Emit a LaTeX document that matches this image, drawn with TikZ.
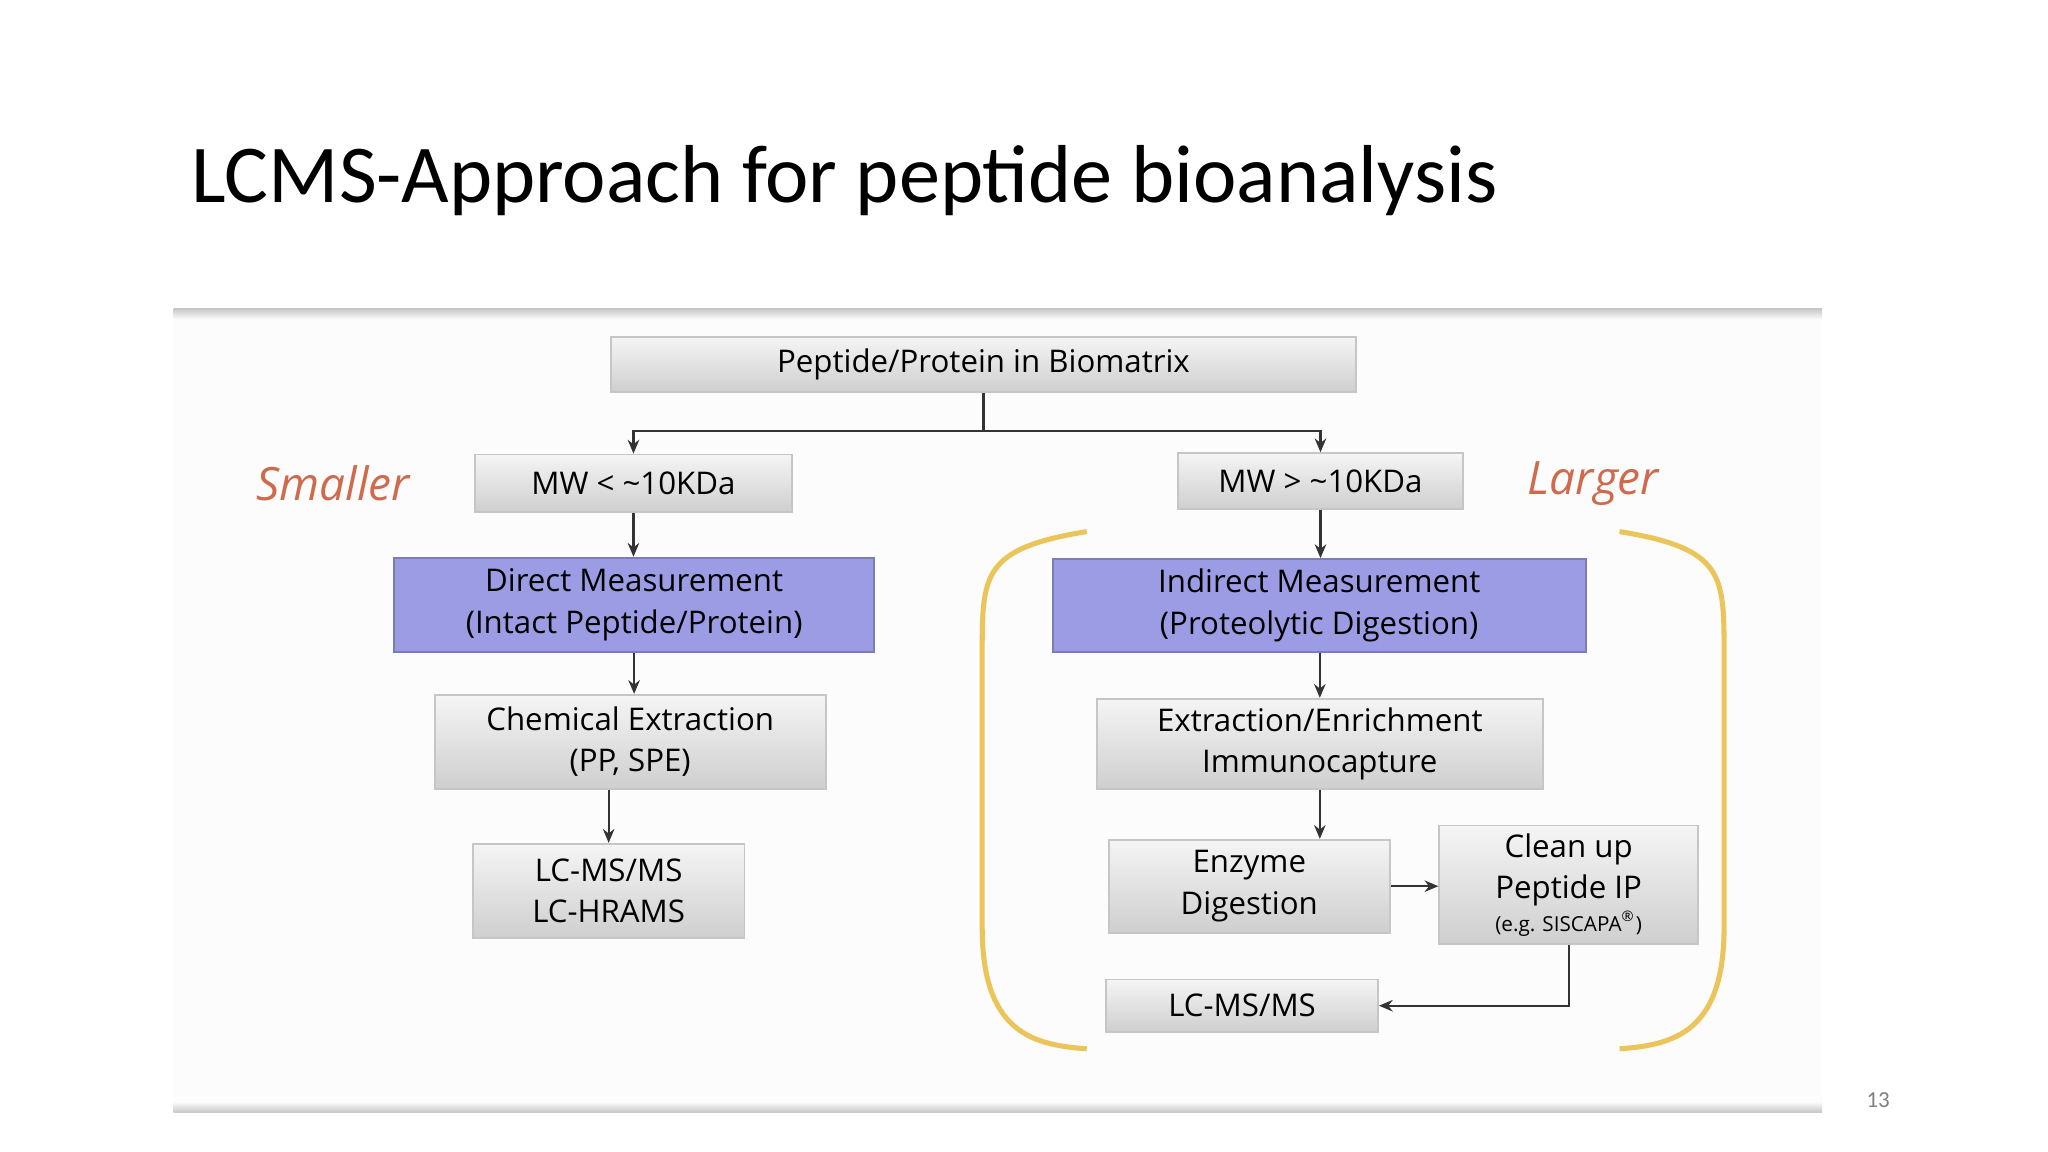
\documentclass[tikz,border=0pt]{standalone}
\usepackage{fontspec}
\setmainfont{Open Sans}
\newfontfamily\titlefont{Carlito}
\usetikzlibrary{arrows.meta,calc}
\definecolor{bluebox}{HTML}{9C9CE4}
\definecolor{orng}{HTML}{D06A4C}
\definecolor{ylw}{HTML}{EBC45A}
\tikzset{
 gbox/.style={draw=gray!45,top color=gray!8,bottom color=gray!38,align=center,font=\fontsize{6.8}{9}\selectfont,inner sep=1pt},
 bbox/.style={draw=bluebox!80!black,fill=bluebox,align=center,font=\fontsize{6.8}{9}\selectfont,inner sep=1pt},
 arr/.style={-{Stealth[length=3pt,width=2.5pt]},black!80,line width=0.5pt},
 brk/.style={ylw,line width=1.1pt}
}
\begin{document}
\begin{tikzpicture}[x=0.01cm,y=-0.01cm]
\useasboundingbox (0,0) rectangle (1568,882);
\fill[white] (0,0) rectangle (1568,882);
\fill[gray!2] (133,240) rectangle (1395,848);
\fill[top color=gray!45,bottom color=gray!5] (133,236) rectangle (1395,244);
\fill[top color=gray!5,bottom color=gray!45] (133,844) rectangle (1395,852);
\node[anchor=west,font=\titlefont\fontsize{17.9}{21}\selectfont] (title) at (134,138) {LCMS-Approach for peptide bioanalysis};
\node[font=\titlefont\fontsize{5}{6}\selectfont,text=gray] (pg) at (1438,842) {13};

\node[gbox,minimum width=5.7cm,minimum height=0.42cm] (top) at (753,279) {Peptide/Protein in Biomatrix};
\node[gbox,minimum width=2.43cm,minimum height=0.44cm] (mwl) at (485,370) {MW < \textasciitilde10KDa};
\node[gbox,minimum width=2.18cm,minimum height=0.43cm] (mwr) at (1011,368.5) {MW > \textasciitilde10KDa};
\node[bbox,minimum width=3.67cm,minimum height=0.72cm] (dir) at (485.5,463) {Direct Measurement\\(Intact Peptide/Protein)};
\node[bbox,minimum width=4.08cm,minimum height=0.71cm] (ind) at (1010,463.5) {Indirect Measurement\\(Proteolytic Digestion)};
\node[gbox,minimum width=2.99cm,minimum height=0.72cm] (chem) at (482.5,568) {Chemical Extraction\\(PP, SPE)};
\node[gbox,minimum width=3.41cm,minimum height=0.69cm] (extr) at (1010.5,569.5) {Extraction/Enrichment\\Immunocapture};
\node[gbox,minimum width=2.08cm,minimum height=0.72cm] (lcl) at (466,682) {LC-MS/MS\\LC-HRAMS};
\node[gbox,minimum width=2.15cm,minimum height=0.71cm] (enz) at (956.5,678.5) {Enzyme\\Digestion};
\node[gbox,minimum width=1.98cm,minimum height=0.91cm] (clean) at (1201,677.5) {Clean up\\Peptide IP\\[-2pt]{\fontsize{4.5}{5}\selectfont (e.g. SISCAPA\textsuperscript{\textregistered})}};
\node[gbox,minimum width=2.08cm,minimum height=0.40cm] (lcr) at (951,770) {LC-MS/MS};

\node[font=\itshape\fontsize{10}{12}\selectfont,text=orng] (sm) at (255,370) {Smaller};
\node[font=\itshape\fontsize{10}{12}\selectfont,text=orng] (lg) at (1220,370) {Larger};

\coordinate (tc) at (753,330);
\draw[black!80,line width=0.6pt] (top.south) -- (tc);
\draw[arr] (tc) -| (mwl.north);
\draw[arr] (tc) -| (mwr.north);
\draw[arr] (mwl.south) -- (mwl.south|-dir.north);
\draw[arr] (dir.south) -- (dir.south|-chem.north);
\draw[arr] (lcl.north|-chem.south) -- (lcl.north);
\draw[arr] (mwr.south) -- (mwr.south|-ind.north);
\draw[arr] (ind.south-|extr.north) -- (extr.north);
\draw[arr] (extr.south) -- (extr.south|-enz.north);
\draw[arr] (enz.east) -- (clean.west|-enz.east);
\draw[arr] (clean.south) |- (lcr.east);

\draw[brk] (832,407) .. controls (752,420) and (752,440) .. (752,500) -- (752,710) .. controls (752,790) and (790,800) .. (832,803);
\draw[brk] (1240,407) .. controls (1320,420) and (1320,440) .. (1320,500) -- (1320,710) .. controls (1320,790) and (1282,800) .. (1240,803);
\end{tikzpicture}
\end{document}
